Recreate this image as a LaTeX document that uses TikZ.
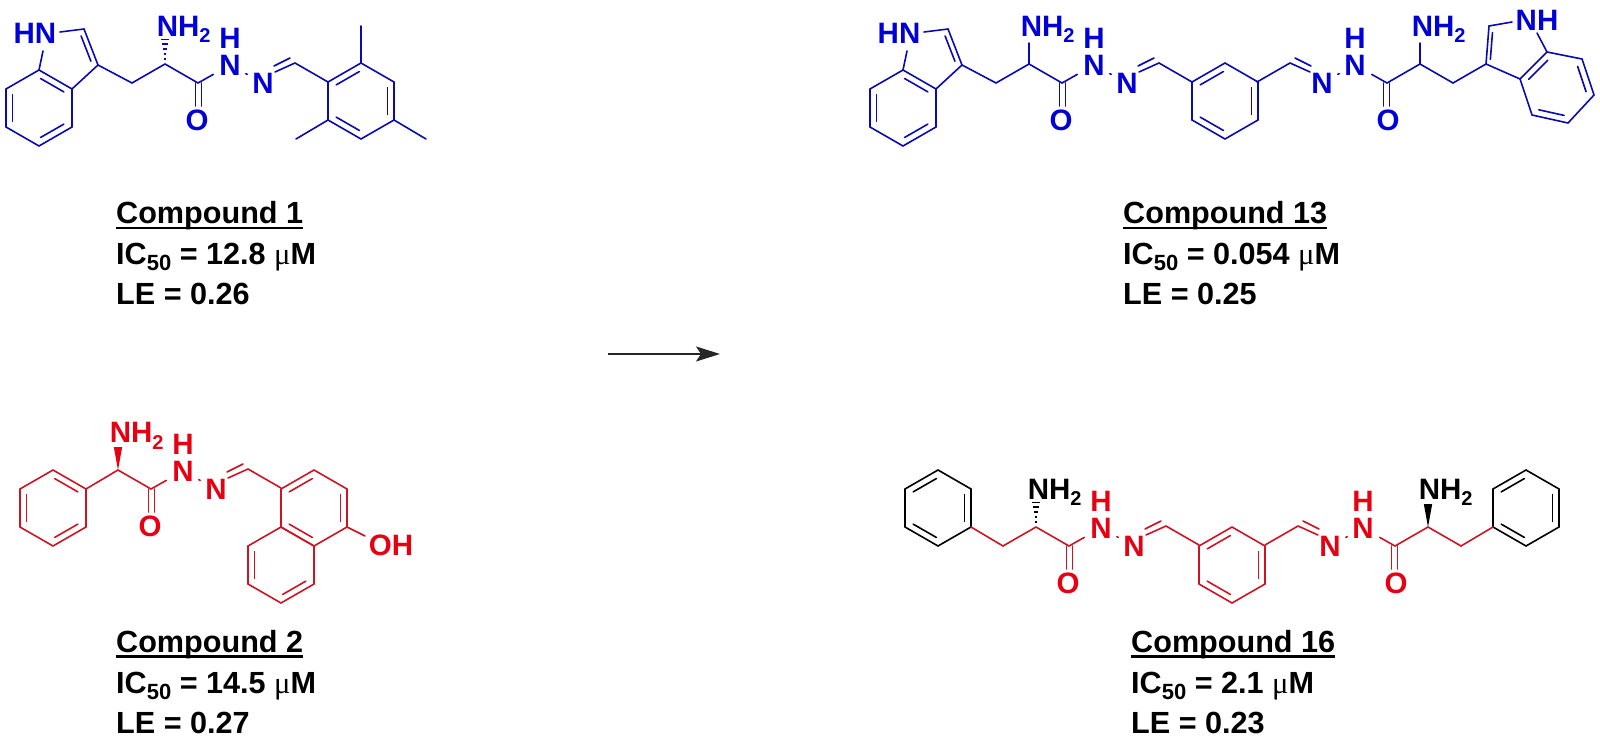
\documentclass[tikz,border=0pt]{standalone}
\usepackage{fontspec}
\setmainfont{Liberation Sans}
\newfontfamily\mufont{Liberation Serif}
\usetikzlibrary{calc, arrows.meta}
\definecolor{molblue}{RGB}{0,0,215}
\definecolor{molred}{RGB}{230,0,18}
\definecolor{bondblue}{RGB}{10,10,175}
\definecolor{bondred}{RGB}{205,20,35}
\newcommand{\lowsub}[3]{\raisebox{-#3pt}{\fontsize{#2}{#2}\selectfont #1}}
\newcommand{\nhtwo}{NH\lowsub{2}{20}{6.5}}
\newcommand{\ringbond}[3]{\draw ($($(#1)!.06!(#2)$)!.2!(#3)$) -- ($($(#1)!.94!(#2)$)!.2!(#3)$);}
\newcommand{\datablock}[6]{
  \node[datalab] (#1t) at (#2,#3) {Compound #4};
  \draw[ulbar] ([yshift=-4pt]#1t.base west) -- ([yshift=-4pt]#1t.base east);
  \node[datalab] (#1i) at (#2,#3+40.5) {IC\lowsub{50}{22}{6} = #5 {\mufont\mdseries μ}M};
  \node[datalab] (#1l) at (#2,#3+81) {LE = #6};
}
\tikzset{
  x=1pt, y=-1pt,
  blue mol/.style={color=bondblue, text=molblue, line width=1.6pt, line cap=round},
  red mol/.style={color=bondred, text=molred, line width=1.6pt, line cap=round},
  black mol/.style={color=black, line width=1.6pt, line cap=round},
  atomlab/.style={inner sep=0pt, font=\bfseries\fontsize{29.5}{32}\selectfont},
  aminolab/.style={atomlab, anchor=base west},
  datalab/.style={inner sep=0pt, anchor=base west, font=\bfseries\fontsize{30.6}{34}\selectfont},
  ulbar/.style={black, line width=2.6pt},
  pics/hexring/.style={code={
    \coordinate (-t) at (0,0);
    \coordinate (-ur) at (33,19);
    \coordinate (-lr) at (33,57);
    \coordinate (-b) at (0,76);
    \coordinate (-ll) at (-33,57);
    \coordinate (-ul) at (-33,19);
    \coordinate (-c) at (0,38);
    \draw (-t) -- (-ur) -- (-lr) -- (-b) -- (-ll) -- (-ul) -- cycle;
  }},
  pics/hydrazone/.style={code={
    \coordinate (-ca) at (0,0);
    \coordinate (-co) at (33,19);
    \coordinate (-oa) at (30.5,19);
    \coordinate (-ob) at (30.5,42);
    \coordinate (-oc) at (36.5,19);
    \coordinate (-od) at (36.5,42);
    \coordinate (-ia) at (110,8);
    \coordinate (-ib) at (109,2);
    \coordinate (-ic) at (125,-6);
    \coordinate (-cn) at (130,-1);
    \coordinate (-ar) at (163,18);
    \node[atomlab] (-o) at (32,56) {O};
    \node[atomlab] (-n1) at (65,1) {N};
    \node[atomlab] (-h) at (65,-26) {H};
    \node[atomlab] (-n2) at (98,19) {N};
    \draw (-ca) -- (-co);
    \draw (-oa) -- (-ob);
    \draw (-oc) -- (-od);
    \draw[shorten >=6pt] (-co) -- (-n1);
    \draw[shorten >=5pt, shorten <=5pt] (-n1) -- (-n2);
    \draw (-ia) -- (-cn);
    \draw (-ib) -- (-ic);
    \draw (-cn) -- (-ar);
  }},
  pics/hashup/.style={code={
    \foreach \yy/\ww in {5/0.6, 10/1.4, 15/2.2, 20/3.2, 24.5/4}
      \draw[line width=1.4pt, line cap=butt] (-\ww,-\yy) -- (\ww,-\yy);
  }},
  pics/wedgeup/.style={code={
    \fill (0,0) -- (-4.2,-23) -- (4.2,-23) -- cycle;
  }},
}
\begin{document}
\begin{tikzpicture}
	\useasboundingbox (0,0) rectangle (1600,751);

	% compound 1
	\begin{scope}[blue mol]
		\pic (r1) at (39,70) {hexring};
		\pic (r2) at (361,63) {hexring};
		\pic (hz1) at (165,64) {hydrazone};
		\pic (hs1) at (165,64) {hashup};
		\node[atomlab] (hn1) at (35,33) {HN};
		\node[aminolab] (am1) at (156,36.5) {\nhtwo};
		\coordinate (p1) at (84,29);
		\coordinate (p2) at (98,65);
		\coordinate (p3) at (60,32);
		\coordinate (p4) at (43,51);
		\coordinate (p5) at (66,55);
		\coordinate (ch1) at (132,83);
		\coordinate (me1) at (361,26);
		\coordinate (me2) at (296,139);
		\coordinate (me3) at (426,139);
		\draw (r1-t) -- (p4);
		\draw (p3) -- (p1) -- (p2) -- (r1-ur);
		\draw (p2) -- (ch1) -- (hz1-ca);
		\draw (r2-t) -- (me1);
		\draw (r2-ll) -- (me2);
		\draw (r2-lr) -- (me3);
		\ringbond{p1}{p2}{p5}
		\ringbond{r1-ul}{r1-ll}{r1-c}
		\ringbond{r1-b}{r1-lr}{r1-c}
		\ringbond{r1-t}{r1-ur}{r1-c}
		\ringbond{r2-ul}{r2-t}{r2-c}
		\ringbond{r2-ur}{r2-lr}{r2-c}
		\ringbond{r2-ll}{r2-b}{r2-c}
	\end{scope}

	% compound 13
	\begin{scope}[blue mol]
		\pic (r3) at (903,70) {hexring};
		\pic (r4) at (1225,63) {hexring};
		\pic (hz2) at (1029,64) {hydrazone};
		\pic[xscale=-1] (hz3) at (1420,64) {hydrazone};
		\node[atomlab] (hn2) at (899,33) {HN};
		\node[atomlab] (hn3) at (1537,20) {NH};
		\node[aminolab] (am2) at (1020,36.5) {\nhtwo};
		\node[aminolab] (am3) at (1411,36.5) {\nhtwo};
		\coordinate (q1) at (948,29);
		\coordinate (q2) at (962,65);
		\coordinate (q3) at (924,32);
		\coordinate (q4) at (907,51);
		\coordinate (q5) at (930,55);
		\coordinate (ch2) at (996,83);
		\coordinate (ch3) at (1453,83);
		\coordinate (up2) at (1029,43);
		\coordinate (up3) at (1420,43);
		\coordinate (s1) at (1486,64);
		\coordinate (s2) at (1489,26);
		\coordinate (s3) at (1512,22);
		\coordinate (s4) at (1537,33);
		\coordinate (s5) at (1547,52);
		\coordinate (s6) at (1582,59);
		\coordinate (s7) at (1594,95);
		\coordinate (s8) at (1568,123);
		\coordinate (s9) at (1532,115);
		\coordinate (s10) at (1520,79);
		\coordinate (s11) at (1507,50);
		\coordinate (s12) at (1557,87);
		\draw (r3-t) -- (q4);
		\draw (q3) -- (q1) -- (q2) -- (r3-ur);
		\draw (q2) -- (ch2) -- (hz2-ca);
		\draw (hz2-ca) -- (up2);
		\draw (hz3-ca) -- (up3);
		\draw (hz3-ca) -- (ch3) -- (s1);
		\draw (s1) -- (s2) -- (s3);
		\draw (s4) -- (s5);
		\draw (s1) -- (s10) -- (s5) -- (s6) -- (s7) -- (s8) -- (s9) -- (s10);
		\ringbond{q1}{q2}{q5}
		\ringbond{r3-ul}{r3-ll}{r3-c}
		\ringbond{r3-b}{r3-lr}{r3-c}
		\ringbond{r3-t}{r3-ur}{r3-c}
		\ringbond{r4-ul}{r4-t}{r4-c}
		\ringbond{r4-ur}{r4-lr}{r4-c}
		\ringbond{r4-ll}{r4-b}{r4-c}
		\ringbond{s1}{s2}{s11}
		\ringbond{s10}{s5}{s12}
		\ringbond{s6}{s7}{s12}
		\ringbond{s8}{s9}{s12}
	\end{scope}

	% compound 2
	\begin{scope}[red mol]
		\pic (r5) at (53,470) {hexring};
		\pic (r6) at (314,470) {hexring};
		\pic (r7) at (281,527) {hexring};
		\pic (hz4) at (118,470) {hydrazone};
		\pic[molred] (wd1) at (118,470) {wedgeup};
		\node[aminolab] (am4) at (109,442.7) {\nhtwo};
		\node[aminolab] (oh1) at (368,555) {OH};
		\coordinate (oe1) at (365,536);
		\draw (r5-ur) -- (hz4-ca);
		\draw (r6-lr) -- (oe1);
		\ringbond{r5-ul}{r5-ll}{r5-c}
		\ringbond{r5-b}{r5-lr}{r5-c}
		\ringbond{r5-t}{r5-ur}{r5-c}
		\ringbond{r6-ul}{r6-t}{r6-c}
		\ringbond{r6-ur}{r6-lr}{r6-c}
		\ringbond{r6-ll}{r6-b}{r6-c}
		\ringbond{r7-ul}{r7-ll}{r7-c}
		\ringbond{r7-b}{r7-lr}{r7-c}
	\end{scope}

	% compound 16
	\begin{scope}[red mol]
		\pic (r8) at (1232,527) {hexring};
		\pic (hz5) at (1036,527) {hydrazone};
		\pic[xscale=-1] (hz6) at (1428,527) {hydrazone};
		\pic[black] (hs2) at (1036,527) {hashup};
		\pic[black] (wd2) at (1428,527) {wedgeup};
		\node[aminolab, text=black] (am5) at (1027,499.3) {\nhtwo};
		\node[aminolab, text=black] (am6) at (1418,499.3) {\nhtwo};
		\coordinate (ch5) at (1003,546);
		\coordinate (ch6) at (1461,546);
		\ringbond{r8-ul}{r8-t}{r8-c}
		\ringbond{r8-ur}{r8-lr}{r8-c}
		\ringbond{r8-ll}{r8-b}{r8-c}
		\begin{scope}[black mol]
			\pic (r9) at (938,470) {hexring};
			\pic (r10) at (1526,470) {hexring};
			\ringbond{r9-ul}{r9-t}{r9-c}
			\ringbond{r9-ur}{r9-lr}{r9-c}
			\ringbond{r9-ll}{r9-b}{r9-c}
			\ringbond{r10-ul}{r10-t}{r10-c}
			\ringbond{r10-ur}{r10-lr}{r10-c}
			\ringbond{r10-ll}{r10-b}{r10-c}
		\end{scope}
		\draw (r9-lr) -- (ch5) -- (hz5-ca);
		\draw (r10-ll) -- (ch6) -- (hz6-ca);
	\end{scope}

	% labels
	\datablock{c1}{116}{224}{1}{12.8}{0.26}
	\datablock{c13}{1123}{224}{13}{0.054}{0.25}
	\datablock{c2}{116}{652.5}{2}{14.5}{0.27}
	\datablock{c16}{1131}{652.5}{16}{2.1}{0.23}

	% arrow
	\coordinate (ar1) at (608,354);
	\coordinate (ar2) at (720,354);
	\draw[-{Stealth[length=24pt,width=15pt,inset=5pt]}, line width=1.4pt, black!85] (ar1) -- (ar2);
\end{tikzpicture}
\end{document}
